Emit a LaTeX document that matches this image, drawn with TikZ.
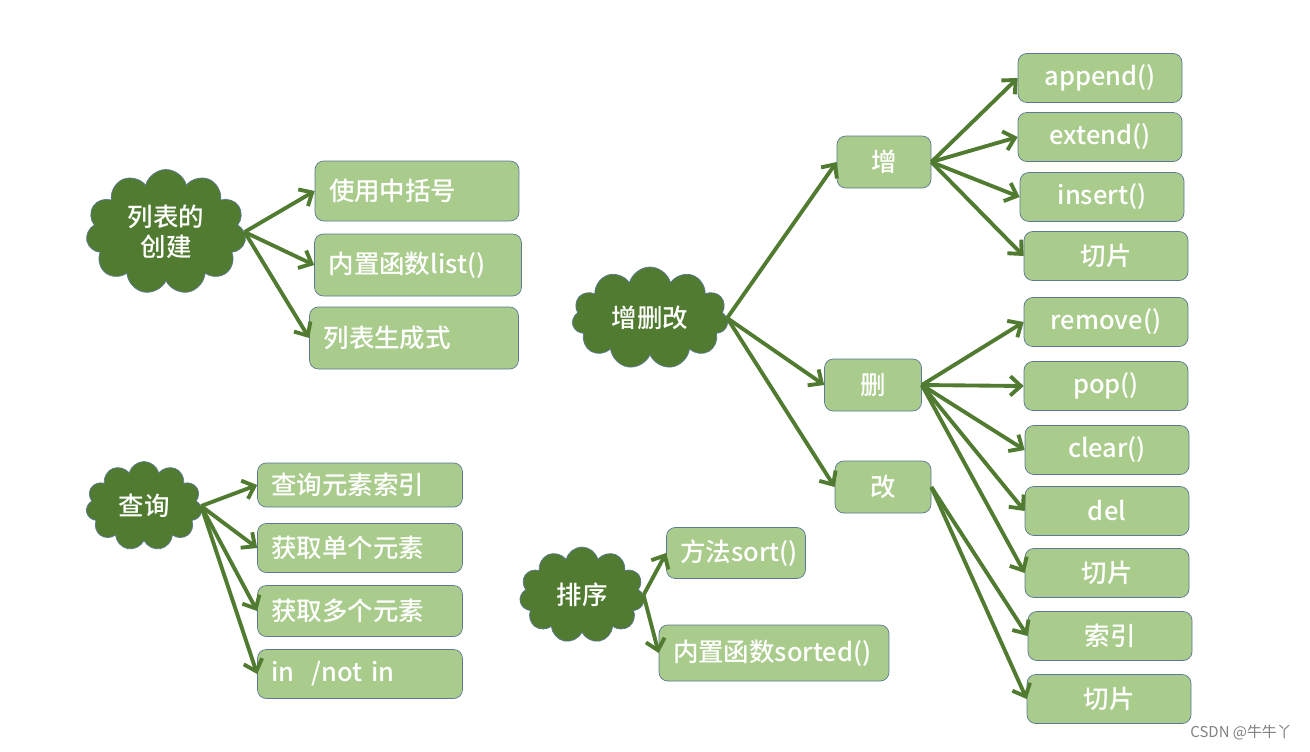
\documentclass[tikz,border=0pt]{standalone}
\usepackage{fontspec}
\newfontfamily\cjk{Noto Sans CJK SC}[BoldFont={Noto Sans CJK SC Medium}]
\usepackage{tikz}
\usetikzlibrary{arrows.meta, shapes.symbols}
\definecolor{leaf}{HTML}{A9CB8C}
\definecolor{moss}{HTML}{517B31}
\definecolor{slate}{HTML}{5B7894}

\begin{document}
\begin{tikzpicture}[x=0.02cm, y=-0.02cm, font=\cjk\bfseries\fontsize{14.5}{17}\selectfont,
  >={Straight Barb[length=6pt, width=11pt]},
  box/.style={draw=slate, fill=leaf, rounded corners=5pt, text=white, minimum width=3.28cm, minimum height=0.98cm, inner sep=2pt},
  lbox/.style={box, minimum width=0pt, align=left, text width=#1, inner xsep=0.28cm},
  cloudy/.style={cloud, cloud puffs=11, cloud ignores aspect, draw=slate, fill=moss, text=white, align=center},
  link/.style={->, moss, line width=2.2pt}]
  \useasboundingbox (0,0) rectangle (1310,751);

  % clouds
  \node[cloudy, minimum width=3.2cm, minimum height=2.5cm] (mk) at (166,232) {列表的\\创建};
  \node[cloudy, minimum width=3.12cm, minimum height=2.04cm] (edit) at (650,318) {增删改};
  \node[cloudy, minimum width=2.32cm, minimum height=1.78cm] (ask) at (144,506) {查询};
  \node[cloudy, minimum width=2.5cm, minimum height=1.92cm] (sort) at (582,595) {排序};

  % list creation
  \node[lbox=3.52cm, minimum height=1.2cm] (mk1) at (417,191) {使用中括号};
  \node[lbox=3.58cm, minimum height=1.24cm] (mk2) at (418,265) {内置函数list()};
  \node[lbox=3.62cm, minimum height=1.24cm] (mk3) at (414,338) {列表生成式};

  % lookup
  \node[lbox=3.54cm, minimum height=0.88cm] (ask1) at (360,485) {查询元素索引};
  \node[lbox=3.54cm] (ask2) at (360,548) {获取单个元素};
  \node[lbox=3.54cm, minimum height=1.02cm] (ask3) at (360,611) {获取多个元素};
  \node[lbox=3.54cm] (ask4) at (360,674) {in\ \ /not in};

  % sorting
  \node[lbox=2.22cm, minimum height=1.02cm] (sort1) at (736,553) {方法sort()};
  \node[lbox=4.04cm, minimum height=1.12cm] (sort2) at (774,653) {内置函数sorted()};

  % add / delete / change
  \node[box, minimum width=1.88cm, minimum height=1.04cm] (add) at (884,162) {增};
  \node[box, minimum width=1.94cm, minimum height=1.04cm] (del) at (873,385) {删};
  \node[box, minimum width=1.92cm, minimum height=1.04cm] (chg) at (883,487) {改};

  \node[box] (add1) at (1100,78) {append()};
  \node[box] (add2) at (1100,137) {extend()};
  \node[box] (add3) at (1102,197) {insert()};
  \node[box] (add4) at (1106,256) {切片};

  \node[box] (del1) at (1106,322) {remove()};
  \node[box] (del2) at (1106,386) {pop()};
  \node[box] (del3) at (1107,450) {clear()};
  \node[box] (del4) at (1107,511) {del};
  \node[box] (del5) at (1107,573) {切片};

  \node[box] (chg1) at (1110,636) {索引};
  \node[box] (chg2) at (1109,699) {切片};

  \node[text=gray, anchor=east, font=\cjk\fontsize{8.5}{10}\selectfont] (mark) at (1298,733) {CSDN @牛牛丫};

  % connectors
  \foreach \t in {mk1, mk2, mk3} \draw[link] (mk.east) -- (\t.west);
  \foreach \t in {ask1, ask2, ask3, ask4} \draw[link] (ask.east) -- (\t.west);
  \foreach \t in {sort1, sort2} \draw[link] (sort.east) -- (\t.west);
  \foreach \t in {add, del, chg} \draw[link] (edit.east) -- (\t.west);
  \foreach \t in {add1, add2, add3, add4} \draw[link] (add.east) -- (\t.west);
  \foreach \t in {del1, del2, del3, del4, del5} \draw[link] (del.east) -- (\t.west);
  \foreach \t in {chg1, chg2} \draw[link] (chg.east) -- (\t.west);
\end{tikzpicture}
\end{document}
